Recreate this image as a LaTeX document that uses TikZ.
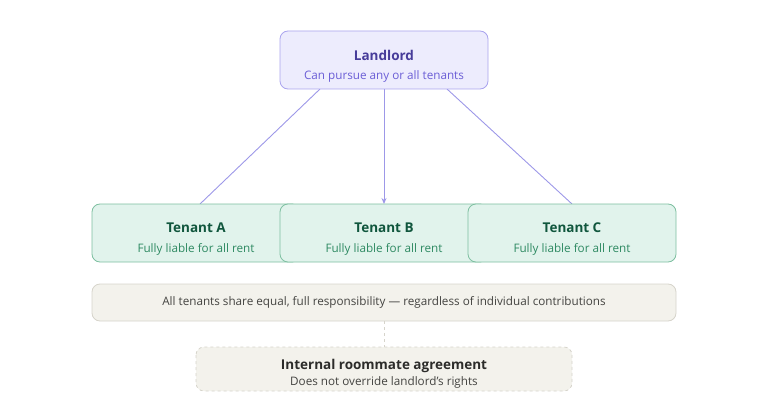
\documentclass[tikz,border=0pt]{standalone}
\usepackage{fontspec}
\setmainfont{Open Sans}
\usetikzlibrary{arrows.meta}
\definecolor{llfill}{HTML}{EDECFD}
\definecolor{lldraw}{HTML}{A9A3EE}
\definecolor{lltitle}{HTML}{473C9A}
\definecolor{llsub}{HTML}{6B5ED6}
\definecolor{llline}{HTML}{9D98E8}
\definecolor{tnfill}{HTML}{E1F3EC}
\definecolor{tndraw}{HTML}{7DBFA0}
\definecolor{tntitle}{HTML}{10563D}
\definecolor{tnsub}{HTML}{2F8A63}
\definecolor{nbfill}{HTML}{F3F2EC}
\definecolor{nbdraw}{HTML}{D6D4CB}
\definecolor{nbtext}{HTML}{444441}
\definecolor{nbtitle}{HTML}{2C2C2A}
\tikzset{
  box/.style={rounded corners=8pt, line width=0.8pt},
  llbox/.style={box, fill=llfill, draw=lldraw},
  tnbox/.style={box, fill=tnfill, draw=tndraw},
  nbbox/.style={box, fill=nbfill, draw=nbdraw},
  ttl/.style={font=\fontsize{13.5}{16}\selectfont\bfseries},
  sub/.style={font=\fontsize{11.7}{14}\selectfont},
  link/.style={draw=llline, line width=0.9pt},
}
\begin{document}
\begin{tikzpicture}[x=1pt,y=-1pt]
\useasboundingbox (0,0) rectangle (768,417);
% connectors
\coordinate (s1) at (320,89);
\coordinate (s2) at (384,89);
\coordinate (s3) at (447,89);
\coordinate (e1) at (200,204);
\coordinate (e2) at (384,204);
\coordinate (e3) at (572,204);
\draw[link] (s1) -- (e1);
\draw[link,-{Stealth[length=6pt,width=5pt]}] (s2) -- (e2);
\draw[link] (s3) -- (e3);
% landlord
\path[llbox] (280,31) rectangle (488,89);
\node[ttl, text=lltitle] (ll) at (384,55) {Landlord};
\node[sub, text=llsub] (llsub) at (384,76) {Can pursue any or all tenants};
% tenants
\path[tnbox] (92,204) rectangle (300,262);
\node[ttl, text=tntitle] (ta) at (196,228) {Tenant A};
\node[sub, text=tnsub] (tas) at (196,249) {Fully liable for all rent};
\path[tnbox] (280,204) rectangle (488,262);
\node[ttl, text=tntitle] (tb) at (384,228) {Tenant B};
\node[sub, text=tnsub] (tbs) at (384,249) {Fully liable for all rent};
\path[tnbox] (468,204) rectangle (676,262);
\node[ttl, text=tntitle] (tc) at (572,228) {Tenant C};
\node[sub, text=tnsub] (tcs) at (572,249) {Fully liable for all rent};
% shared note
\path[nbbox] (92,284) rectangle (676,321);
\node[sub, text=nbtext] (share) at (384,302) {All tenants share equal, full responsibility — regardless of individual contributions};
% dashed link
\coordinate (d1) at (384,321);
\coordinate (d2) at (384,347);
\draw[draw=nbdraw, line width=0.9pt, dashed] (d1) -- (d2);
% internal agreement
\path[nbbox, dashed] (196,347) rectangle (572,391);
\node[ttl, text=nbtitle] (ia) at (384,366) {Internal roommate agreement};
\node[sub, text=nbtext] (ias) at (384,382) {Does not override landlord{\char"27}s rights};
\end{tikzpicture}
\end{document}
